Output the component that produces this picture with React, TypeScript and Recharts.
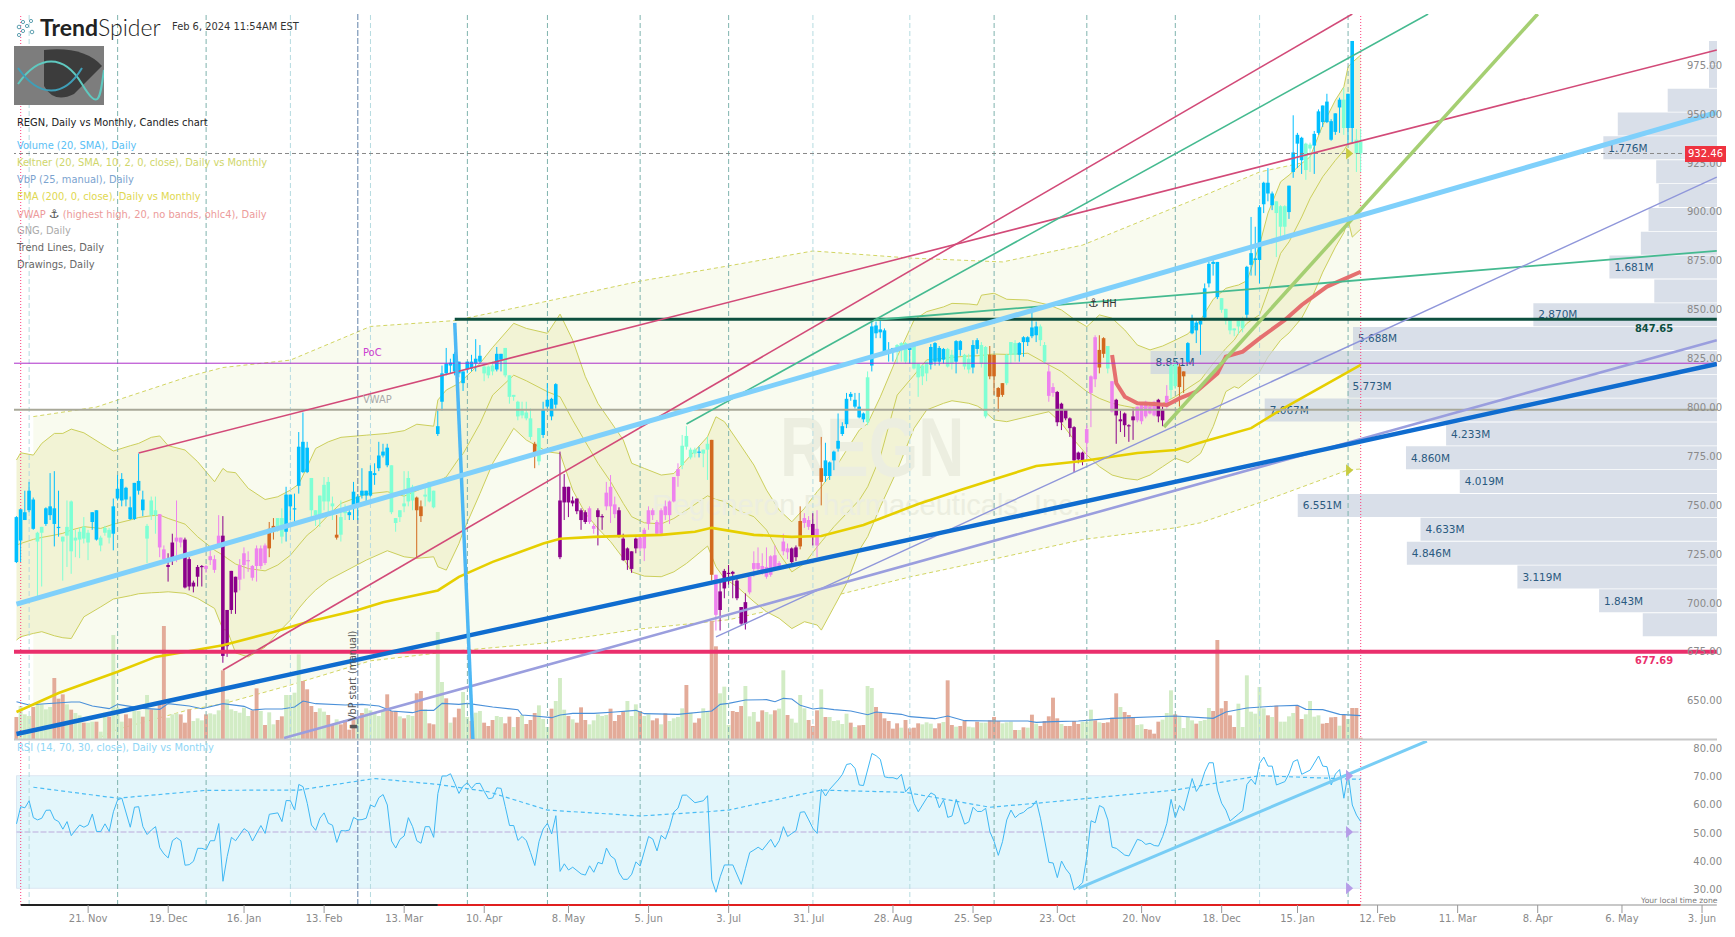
import React from 'react';
import { ComposedChart, Area, Bar, Line, XAxis, YAxis, ReferenceLine, ReferenceArea, ReferenceDot, LabelList } from 'recharts';

// [high, body top, body bottom, low, tone] b/a up trend, p/v down trend, o neutral
const ohlc: [number, number, number, number, string][] = [
  [747,746.5,723.5,723,'b'],[750.5,750.5,734.5,723.5,'b'],[760,749,745,745,'b'],[764.5,760,750,749,'b'],[756.5,755.5,740.5,740,'b'],
  [739,738.5,734,706,'a'],[741.5,741.5,738.5,711,'a'],[751.5,751,743,742,'b'],[769,752,747.5,745,'b'],[770,751,743,731.5,'b'],
  [760,741.5,741,736.5,'b'],[736.5,736.5,734,714,'a'],[755,741.5,737,721,'a'],[755,754.5,729,717.5,'a'],[740,736,734.5,726,'a'],
  [741,739,735,725.5,'a'],[746.5,741.5,735.5,733,'a'],[740,738.5,733.5,724.5,'a'],[749,749,744,740,'b'],[750,750,735,734.5,'b'],
  [737,736,732,729,'a'],[742,741,738.5,737,'a'],[741,740,736,733,'a'],[756,752,738,729.5,'b'],[768,761,756,755,'b'],
  [769,766,755,752,'b'],[762,761.5,755.5,752,'b'],[757,751.5,745.5,745,'b'],[764,764,745.5,745,'b'],[779,765,760,758,'b'],
  [760,755.5,750,747,'b'],[743,742,735.5,723,'a'],[757,755,747.5,745,'a'],[757,750,747.5,738,'a'],[748,748,731,726,'v'],
  [732,730,725,723,'v'],[728,722,721,713.5,'p'],[738,733.5,725,722,'p'],[755,736,734,723.5,'v'],[736,736,733.5,731,'v'],
  [736,735,710.5,710,'p'],[726,725,711,709,'p'],[714,713,711,708,'p'],[722,721,716,711,'p'],[722,721.5,721,711,'p'],
  [722,721.5,720,718,'v'],[731,726.5,724.5,722,'v'],[727,725,719.5,718,'v'],[747.5,737,732,731,'v'],[747,737,675.5,672,'p'],
  [699,699,680.5,675,'p'],[719,719,699,697,'p'],[716,716,708,697,'p'],[725,722,714.5,709,'v'],[731,728,722,715,'v'],
  [729,724.5,724,718.5,'v'],[722,721.5,715.5,714,'v'],[732,730.5,721.5,713.5,'v'],[732,730.5,721.5,720,'v'],[733,732,723,722,'v'],
  [744,740.5,730.5,726,'o'],[746,742,740.5,735,'o'],[746,746,741.5,739,'a'],[751,746,736.5,733,'a'],[762,758,739,734,'b'],
  [758,758,752,745,'b'],[758.5,751,750.5,743,'b'],[790,782.5,762.5,758.5,'b'],[800,785,769.5,769,'b'],[785,782,769.5,769,'b'],
  [766.5,766.5,750,745,'a'],[750,750,747.5,742,'a'],[757.5,757.5,747.5,741.5,'a'],[767,763,754.5,750,'a'],[767,764.5,754.5,748,'a'],
  [757,753.5,752,745,'a'],[747.5,737.5,736,735,'o'],[755,746.5,737.5,734,'a'],[753,751,748.5,745,'a'],[750,749,747.5,745,'b'],
  [764.5,759.5,752.5,745,'b'],[758,757,753,745,'b'],[771.5,760,757.5,756,'b'],[760,760,757.5,753.5,'b'],[773,770,757.5,757,'b'],
  [774,769,768,763,'b'],[785,778,771.5,770,'b'],[784,780,778,777,'b'],[784,782,773,772,'b'],[773,773,749,748,'a'],
  [746,746,743.5,739,'a'],[750,750,746.5,744,'a'],[770,753.5,752,749,'a'],[770,766.5,754.5,752,'a'],[763,762,755,750,'a'],
  [757,756.5,750,726,'o'],[755,752,747,744,'o'],[763,758,757,752,'a'],[764.5,764.5,754.5,754,'a'],[760,760,751.5,751,'a'],
  [801,793,789,788,'b'],[824,820,805.5,801,'b'],[833,825,820,819,'b'],[827.5,825.5,824,820,'b'],[831,830,821,819,'b'],
  [826,826,820,818,'b'],[821,821,815,811,'b'],[826,826,822,820,'b'],[829.5,826,822.5,821,'b'],[837.5,827.5,825,821,'b'],
  [834.5,829,826,825,'b'],[824,823.5,820,816,'a'],[824,823.5,819,817.5,'a'],[826,824,821,819,'a'],[833.5,830,822,821,'b'],
  [830,830,827,821,'b'],[833,833,819,818,'a'],[819,819,808,804.5,'a'],[809,809,808,806,'a'],[806,805.5,798,796,'a'],
  [805.5,801,798.5,797,'a'],[805.5,800,797,796,'a'],[802,797,787.5,786,'a'],[785,784,779,771.5,'o'],[792,792,775,773,'a'],
  [805.5,801.5,788.5,787,'b'],[815,806.5,803,802,'b'],[807.5,807,798,796,'b'],[815,814.5,804,802,'b'],[780,755,726,725,'p'],
  [768.5,762,754,745,'p'],[762,762,754,746.5,'p'],[757,755,753.5,752,'p'],[756,756,749.5,748,'p'],[751,750,745,740,'p'],
  [750,749,744,743,'p'],[752,751,744,743,'v'],[743,742,740.5,738,'v'],[751,750,746.5,732,'p'],[748,747,746.5,740,'p'],
  [764.5,759,752,750,'v'],[768,762,752,743.5,'v'],[757,753,748,746,'v'],[751.5,750,736.5,736,'p'],[738,735.5,724.5,724,'p'],
  [731,730.5,724.5,719.5,'p'],[729,729,720,718,'p'],[736,735.5,730.5,728,'p'],[737,736,730.5,729,'v'],[741,740,730.5,724,'v'],
  [752,750,743,740,'v'],[751,750,747.5,745,'v'],[745,744,738,737,'v'],[751,750,738,737,'v'],[755,752,747.5,745,'v'],
  [755,754.5,747.5,743,'v'],[767,767,754.5,754,'v'],[774,771,767.5,762,'v'],[788.5,783,773,771,'a'],[793,788,782.5,781,'a'],
  [782,781,777,776,'a'],[782,781,779,777,'a'],[782.5,780,779.5,777,'b'],[781,781,779,772,'a'],[787.5,784,781,765.5,'a'],
  [786,786,717,714,'o'],[717,717,696.5,688.5,'v'],[713,708.5,699,688.5,'p'],[720,719,710,705,'p'],[722,718,717.5,712,'p'],
  [719,718.5,717.5,705,'p'],[716,714,705,704,'p'],[700.5,700.5,692,691,'p'],[707.5,703,692,689,'p'],[716,716,708,707,'v'],
  [729,723,720,716,'v'],[731,723,720,718,'v'],[728,721.5,719.5,717,'v'],[731,721,716,715,'v'],[727,726.5,717,716,'v'],
  [732,727,721,720,'v'],[724,723,721,720,'v'],[738,734,729,727,'v'],[733,730.5,728.5,725,'v'],[731,730.5,723.5,722,'p'],
  [732,731,726,724,'p'],[752,744.5,731.5,730,'o'],[748.5,746,743.5,741,'v'],[747,745,741.5,740,'v'],[748.5,743,737,732,'p'],
  [750,740.5,732,726,'v'],[787.5,771.5,764.5,752.5,'o'],[784.5,775.5,767.5,764.5,'b'],[775,774.5,767.5,765.5,'b'],[780.5,780,775.5,770.5,'b'],
  [799.5,785.5,781.5,780,'b'],[795,793,789,788,'b'],[810,807,794,792,'b'],[810.5,809.5,808,806,'b'],[810,806.5,803,802,'b'],
  [810,803,797.5,797,'b'],[800,799.5,796.5,795,'b'],[821,818,795,793.5,'a'],[846.5,844,824,821,'b'],[846.5,844.5,840.5,838,'b'],
  [847,842.5,841,838,'b'],[843,842,831,830,'b'],[836,832,831,826,'b'],[833,833,831,826,'b'],[835,834.5,831,825,'a'],
  [836,835.5,833,826,'a'],[836,835.5,826,825,'a'],[834,833,832,825,'b'],[836,835.5,822.5,822,'a'],[825,825,818,808,'a'],
  [824.5,824,818.5,814,'a'],[826,826,820,816,'a'],[835,833.5,824.5,822,'b'],[836,835.5,826,824,'b'],[834,833,826,824,'b'],
  [833,832.5,827,825,'b'],[833,832.5,823.5,823,'a'],[832,829.5,825,822,'a'],[837,836.5,826,820,'b'],[837,836.5,832,829,'b'],
  [830,829.5,823.5,822,'a'],[830,827.5,822,820,'a'],[837,834.5,823,820,'b'],[838,837,832.5,830,'b'],[836,834.5,825,823,'a'],
  [834,833.5,798,797,'a'],[834,829.5,818.5,817,'o'],[829.5,829.5,818.5,809,'o'],[813,812.5,808,800.5,'o'],[815,815,809,808,'o'],
  [830,829.5,815,814,'a'],[836,836,829.5,825,'a'],[837,835.5,829.5,826,'a'],[836,835.5,829.5,826,'b'],[839,838.5,836,828.5,'b'],
  [839,838.5,836,834,'b'],[854,843.5,839,838,'b'],[846.5,844,839.5,836,'b'],[845,844,837,834,'a'],[836,834.5,826,825,'a'],
  [824.5,821,808.5,805.5,'v'],[815,813,810,808,'v'],[811,810.5,795,793,'p'],[805,804.5,795,791,'p'],[801.5,801.5,797,796,'p'],
  [797.5,797,792,787.5,'p'],[793,792.5,775.5,769.5,'p'],[780,779.5,776,774,'p'],[780,779.5,775,773,'p'],[793.5,791.5,784.5,776.5,'v'],
  [819,818.5,810,792.5,'v'],[839.5,838.5,817,813,'v'],[839.5,832,823,820,'o'],[838.5,838,830,828,'o'],[834,834,822.5,820,'a'],
  [816,816,800.5,800,'v'],[807,806.5,798.5,784,'p'],[801,796.5,795.5,790,'p'],[800,799.5,793.5,787.5,'p'],[794,793.5,793,785,'p'],
  [802,798,796,786,'p'],[803,803,796,795,'v'],[805,804.5,795.5,794,'v'],[806,805.5,798,797,'v'],[804,803,799.5,799,'v'],
  [806,805.5,798.5,798,'v'],[807,806.5,798,795,'p'],[803,801.5,796,793,'p'],[814,808.5,803,802,'v'],[825,824,811.5,807,'a'],
  [826,825,813.5,812,'a'],[825,823.5,813,803,'o'],[821,821,818.5,810,'o'],[836,835.5,826,825,'b'],[850,847.5,840.5,840,'b'],
  [847,846,842,835.5,'b'],[847.5,847,845,829.5,'b'],[866,863.5,848.5,847,'b'],[877,876,866,864,'b'],[878,877,876,870,'b'],
  [877,877,859,858,'b'],[858.5,858.5,852.5,851,'a'],[853,853,847,845,'a'],[848,848,842,840,'a'],[843,843,842,839,'a'],
  [847,847,844,840,'a'],[849,847,843,841,'a'],[875,874.5,850,848,'b'],[900,881.5,875.5,870,'b'],[895,878.8,878,870,'b'],
  [906,905,878,866,'b'],[918,917.5,906.5,902,'b'],[925,917.5,912,908,'b'],[913,912,906,903.5,'b'],[908,908,902,879.5,'a'],
  [906,905.5,895,890,'a'],[906,905.5,895,890,'a'],[916,916,902.5,899,'b'],[952,933,923,920,'b'],[943,942,937.5,925,'b'],
  [941,940.5,929,922,'b'],[938,937.5,924,919,'a'],[938,937,935,923,'a'],[944,942.5,936.5,922,'b'],[955,954,943,942,'b'],
  [957,957,948.5,946,'b'],[963,959,948.5,948,'b'],[950,949,939.5,939,'b'],[953,953,943.5,942,'b'],[961,960,956,943,'b'],
  [966,960,945.5,942,'a'],[963,963,945.5,937,'b'],[990,990,945.5,938,'b'],[945,939.5,932.5,923,'a'],[945,938.5,932.5,923,'a'],
];

// thousands of shares per bar
const volumes = [
  414,612,462,432,594,642,642,552,594,1116,744,822,642,546,486,444,312,312,330,330,
  150,492,420,1890,582,330,462,390,522,522,420,810,552,552,672,2052,402,462,480,462,
  312,552,342,390,354,462,480,462,534,1254,732,552,522,492,582,432,534,930,522,270,
  498,282,360,426,810,810,852,1542,1062,912,612,504,570,510,450,282,372,282,354,186,
  372,390,486,570,534,504,432,522,822,522,522,426,390,450,432,840,882,552,300,282,
  1944,1044,750,312,408,564,864,414,342,492,522,312,252,360,432,414,300,420,234,414,
  450,288,360,486,624,378,234,564,702,1116,546,432,372,312,588,360,282,354,462,432,
  450,564,342,450,516,702,432,642,522,432,462,354,390,282,480,342,390,414,570,990,
  492,312,390,570,522,2142,1686,840,960,270,522,504,612,972,426,504,330,534,504,462,
  534,564,1254,450,384,312,810,570,360,252,534,912,414,414,342,354,288,474,312,234,
  264,270,972,936,594,498,390,342,204,300,222,360,210,222,300,282,318,294,210,300,
  324,1074,270,240,252,342,240,228,330,312,312,354,414,342,300,318,330,180,180,228,
  222,456,294,252,342,426,762,390,288,252,252,342,288,330,330,546,354,318,306,318,
  402,840,594,504,450,414,270,282,198,186,114,330,366,486,894,462,432,216,414,354,
  294,342,360,576,522,1800,570,702,444,234,654,234,1164,510,474,954,570,444,414,618,
  330,330,426,486,618,378,462,702,420,444,294,306,408,414,258,450,378,576,576,42,
];
const volumeSides =
  'rgggrggggrrrgrggrggr' + 'ggrgggrrggrgrgrrgggr' + 'rrgggrgggrggggggrrgr' + 'ggrrggggrrrrggrrgrrr' +
  'rgrgggggrrrgrggrrgrr' + 'ggrgrrggrggrrrggrrgr' + 'grrrgggrgggrgrrrgggg' + 'grrrrgggrggrrgrggggr' +
  'grrggrrgggrrrgggrrgg' + 'rggrggggrrrgrgggggrg' + 'rrggrrrrrrgrrrrgggrr' + 'grrgrrggrggrrrgggrgr' +
  'grgrrrrrgrrrrgggrgrr' + 'rrgrrrggrrrrgggrgggg' + 'rgggrrrrrrgggggggrgr' + 'ggggrrggggrrrrgrgrrr';

const volumeSma = [
  [0,690],[3,630],[6,648],[13,684],[15,684],[18,612],[22,564],[24,642],[30,570],[34,552],[36,654],[41,612],[44,564],[49,654],[54,606],[56,540],[59,558],[63,558],[66,594],[68,702],[71,654],[78,630],
  [82,642],[86,612],[89,522],[94,492],[96,534],[99,534],[101,660],[105,642],[107,660],[113,594],[119,546],[120,450],[123,432],[127,402],[129,450],[132,480],[137,480],[142,504],[147,534],[149,474],[157,462],[165,522],
  [167,642],[169,660],[173,720],[178,726],[180,690],[182,750],[184,738],[186,624],[189,558],[191,576],[194,546],[198,522],[202,456],[204,504],[210,462],[212,420],[218,384],[221,432],[225,348],[232,342],[240,342],[242,318],[246,330],
  [252,342],[260,390],[275,432],[284,390],[287,504],[292,576],[299,612],[304,624],[306,552],[310,546],[314,462],[319,438],
];

// [bar, upper, middle, lower]
const keltnerDaily = [
  [0,775.7,732.2,683.6],[1,779.4,733,685.3],[4,778.2,735.1,687],[6,784.2,736.1,687.9],[9,789.3,737.3,685.8],[11,789.3,738.2,684.8],[13,791.5,739.9,684.4],
  [16,789.6,741.6,695.5],[20,784.2,740.7,700.6],[23,780.3,742.9,704.6],[27,783,745,706.3],[29,784.2,746.3,707.3],[32,787.3,747.2,707.8],[34,788,747.5,708],
  [36,783,745.8,708.3],[40,780.8,742.9,707.5],[43,774.8,736.4,704.9],[47,764.6,729.6,699.8],[49,771.4,727,689],[50,769.7,725.4,688.7],[52,769.2,722.5,677],
  [55,761.2,720.2,675],[59,755.5,719,680],[62,756.9,722,687.2],[65,760.3,727,693.8],[67,763.4,732.2,699.8],[69,772.3,737.3,704.9],[71,781.6,740.7,709.2],
  [74,785,747.5,714.3],[77,787.3,753.5,717.7],[83,788.4,758.3,724.5],[88,789.3,759.5,729.3],[92,790.7,757.2,726.2],[95,794,760,725.4],[99,793,763.7,726.2],
  [100,806.4,764.6,721.1],[102,811.5,767.1,719.4],[105,814.9,776.5,733],[106,816.9,779,739],[110,825.1,794.4,758.6],[113,833.3,808.9,774],[118,845.6,819.1,791.9],
  [121,843,816.2,785.9],[126,840.5,810.6,779.9],[129,850.3,808,779],[132,837,796,760.3],[135,818.3,785,748.4],[138,804.6,774,740.7],[141,795.3,764.6,733.9],
  [144,785.9,753.5,725.4],[146,774,746.7,718.5],[149,771.4,743.6,716.3],[153,768,743,716],[156,768.8,745.8,718.5],[159,775.7,750.1,722.8],[164,787.6,757.4,731.7],
  [166,797.8,755.5,721.1],[168,795.3,754.5,715.1],[171,785.9,750.1,710.9],[175,773.1,746.7,703.2],[178,760.3,739.9,698.1],[181,750.1,727.9,694.7],[184,744.1,718.5,689.5],
  [187,751,722.8,693],[190,759.5,731.3,691.3],[191,762,733.9,688.7],[194,770.5,741.6,700.6],[197,780.8,748.4,712.6],[200,791,755.2,729.6],[202,794.4,762,736.5],
  [205,808,777.4,751.8],[209,828.5,808.9,770.5],[213,847.3,819.1,791.9],[216,851.6,826.9,801.3],[220,854,827.7,804.7],[222,855.8,828.2,806],[226,855.5,828.9,804.7],
  [228,855,829,803.3],[229,860,829.2,802],[232,861,829.9,796.2],[235,857.9,829.7,795.3],[240,857.5,830.3,797.9],[245,855,824.3,800.4],[248,852.4,820.9,794.5],
  [251,847.7,815.8,785.9],[254,843.9,810.7,778.3],[257,849.9,807.2,772.3],[260,848.2,804.7,768],[263,842.2,803.3,766.3],[266,834.5,802.1,765.5],[269,832,803,768],
  [272,834,804.7,772.3],[275,837,808.1,776.6],[278,840.2,812.4,774.3],[281,847.3,816.6,779.1],[284,857.9,825.1,792.8],[287,863.5,832.8,810.7],[289,864.7,837.1,813.2],
  [290,865.2,840.5,812.4],[292,867.4,845.6,815.8],[295,885.7,850,820.7],[297,902,862,828.4],[300,918,881.4,837],[302,921.4,887.3,840.7],[305,927.4,900,848.3],
  [307,930.8,909.5,856.5],[310,947,920.6,871.8],[313,959.8,929,884.6],[315,966.6,934,892],[316,976.8,937.6,898.4],[317,979,938,889.7],[319,982.8,938.5,893.8],
];

// [bar, upper, lower]
const keltnerMonthly = [
  [4,797.9,625],[19,802.8,633],[24,806.4,638],[41,818.5,648],[49,823,651],[65,826.8,660.6],[84,844,673],[104,847,678],[125,856.5,682],[148,867.2,689.3],
  [169,875,694],[189,882.6,703.6],[212,879,715.9],[234,877,726],[253,885.6,735],[275,905,741],[281,910.2,743.6],[295,923,753.9],[316,932.7,770.6],[319,933,771.1],
];

const ema200 = [
  [0,646.8],[10,656.5],[24,667.4],[33,675],[49,681],[61,687.7],[69,692.9],[81,699],[87,703],[100,709],[105,715.9],[113,723.6],[125,733],[129,735.4],[137,736.4],[153,737.4],[161,739],
  [165,741],[175,737.4],[184,736.4],[191,736.8],[201,742.5],[214,753.2],[224,760.4],[233,766.5],[242,772.6],[253,775.2],[266,779.3],[275,780.8],[283,785.9],[293,792],[300,801.3],[319,824.3],
];

const anchoredVwap = [
  [260,829.4],[261,814.9],[263,808.1],[266,804.7],[270,804.3],[273,803.8],[276,807.2],[280,810.7],[285,820],[287,828.6],[291,831.1],[295,837.9],[301,847.3],[305,855],[311,864.4],[319,872],
];

const rsi = [
  [0,52.9],[1,59],[2,58.6],[3,61.1],[4,55.1],[5,54.3],[6,54.9],[7,57.7],[8,57.8],[9,54.5],[10,53.7],[11,51],[12,53.7],[13,48.7],[14,50.7],[15,52.5],[16,51.7],[17,52.5],[18,56.4],[19,50.2],
  [20,50.2],[21,52.9],[22,50.2],[23,57.2],[24,61.4],[25,62],[27,51.7],[28,58.8],[29,59],[30,51.9],[31,49.1],[32,50.7],[33,51.9],[34,44.4],[35,42.2],[36,40.8],[37,46.9],[38,48],[39,46.9],
  [40,38.2],[41,38.4],[42,39.6],[43,44.2],[44,44.2],[45,43.7],[46,46.9],[47,46.9],[48,53],[49,32.5],[50,41.3],[51,48.1],[52,46.9],[54,51.2],[55,50.1],[56,46.8],[58,52.3],[59,49.5],
  [60,56.3],[62,56.8],[63,53.7],[64,61.2],[65,61.1],[66,57.8],[67,66.9],[68,66.1],[69,60.2],[70,52.5],[71,50.6],[72,54.9],[73,56.8],[74,53.1],[75,52.4],[76,46.3],[77,50.5],[78,50.4],[79,50.7],
  [80,55.2],[81,54.3],[82,54.4],[83,54.9],[84,59.6],[85,58.9],[86,62.2],[87,63.3],[88,59.6],[89,46.8],[90,44.3],[91,47.4],[92,48.6],[93,55.1],[94,51.9],[95,46.9],[96,46],[97,51.9],[98,51.9],[99,48.1],
  [100,63.7],[101,69.9],[102,69.9],[103,70.7],[104,67.3],[105,63.7],[106,66.3],[107,67.5],[108,65.5],[109,67.2],[110,67.3],[111,64.4],[112,61.8],[113,62.1],[114,65.7],[115,65.5],[116,59],[117,52.3],[118,52.3],[119,47],
  [120,48.4],[121,46.9],[122,42.7],[123,38.1],[124,46.6],[125,51.1],[126,53.1],[127,49.3],[128,55.8],[129,36],[130,38.7],[131,36.5],[132,37.5],[134,35.1],[135,34.7],[136,38],[137,35.7],[138,39.2],[139,38.7],
  [140,44.3],[141,41.5],[142,40.4],[143,35.5],[144,33.2],[145,33.2],[146,35],[147,39.4],[148,37.9],[150,48.4],[151,47.5],[152,43.3],[153,48.8],[154,47.5],[155,51.7],[156,57.1],[157,58.5],[158,63.1],[159,63.1],
  [161,60.4],[163,61.1],[164,62.9],[165,33],[166,28.6],[167,34.1],[168,38.3],[170,38.3],[172,31.4],[173,37.1],[174,42.7],[175,43.6],[176,44.6],[177,43.6],[179,47.4],
  [180,44.6],[181,46.9],[182,51.9],[183,48.4],[184,49.5],[185,50.5],[186,57],[187,57.2],[188,54.3],[189,51.3],[190,49.5],[191,65.2],[192,62.8],[193,65.2],[195,68.5],[196,70.5],[197,74],[198,74.3],[199,72.6],
  [200,66.7],[201,66.5],[203,77.9],[204,77.1],[205,75.8],[206,69.6],[207,69.3],[208,69.3],[209,68.8],[210,70.5],[211,64.3],[212,66.1],[213,60.2],[214,57.2],[216,62],[217,63.9],[218,63.1],[219,58.6],
  [220,61.4],[221,55.2],[222,55.7],[223,61.6],[225,52.8],[226,53.6],[227,58.8],[228,57.3],[229,57.3],[230,58.4],[231,50.1],[232,46.6],[233,41.7],[234,46.6],[235,54.3],[236,57.8],[237,55.1],[238,56.4],[239,57],
  [240,58.4],[241,59],[242,61.1],[243,54.9],[245,39.2],[246,39],[247,33.8],[248,39.7],[249,36.9],[250,35],[251,29.4],[252,30.6],[253,32],[254,41.3],[255,54],[256,53.3],[257,59.4],[258,58.6],[259,54.3],
  [260,44.6],[261,44.2],[263,41.8],[264,41.5],[266,47.4],[267,46.9],[268,45.6],[269,46],[270,45.2],[271,45],[272,48.4],[273,53.1],[274,61.6],[275,55.1],[276,59.4],[277,57.6],[279,69],
  [280,64.4],[281,66.7],[282,71.4],[283,74.6],[284,74.6],[285,64.9],[286,60.2],[287,57.8],[288,53.9],[290,56.4],[291,57.6],[292,66.9],[293,68.8],[294,66.9],[295,74.4],[296,76.6],[297,73.4],[298,73.4],[299,66.7],
  [301,67.9],[302,70.8],[303,75],[304,75.7],[305,70.5],[307,72],[309,77],[310,73.4],[311,73.2],[312,66.7],[313,70.6],[314,72.2],[315,62],[316,70.8],[317,59.6],[318,56],[319,53.7],
];
const rsiMonthly = [
  [4,65.9],[24,62],[45,64.8],[67,64.9],[85,69],[100,66.9],[112,64.3],[126,57.8],[148,55.7],[164,57.2],[169,57.8],[191,64.9],[211,64.1],[231,58.8],[242,60.2],[275,64.9],[295,70],[319,68.7],
];

// Volume by price, top bin first, in millions
const vbpVolumes = [0.125,0.125,0.77,1.55,1.776,0.95,0.91,1.07,1.19,1.681,0.98,2.87,5.688,8.851,5.773,7.067,4.233,4.86,4.019,6.551,4.633,4.846,3.119,1.843,1.16];
const vbpLabels = ['','','','','1.776M','','','','','1.681M','','2.870M','5.688M','8.851M','5.773M','7.067M','4.233M','4.860M','4.019M','6.551M','4.633M','4.846M','3.119M','1.843M',''];

// [[bar, price], [bar, price]]
const skyTrend = [[0,702],[403.5,953.5]];
const blueTrend = [[0,635.6],[403.5,824.8]];
const lavenderTrend = [[63.5,633.5],[403.5,837]];
const thinLavenderTrend = [[166,685.2],[403.5,920.4]];
const crimsonWide = [[29,779.3],[403.5,985.4]];
const crimsonSteep = [[49,668.3],[317,1003.8]];
const tealSteep = [[159,794.1],[335,1003.8]];
const tealFlat = [[203.5,847.3],[403.5,882.7]];
const greenTrend = [[272.3,792.6],[361,1003.8]];
const skyDrop = [[104,845.8],[108.3,633]];
const rsiTrend = [[252,30],[334.7,82.3]];

const PRICE_RES = 847.65;
const PRICE_SUP = 677.69;
const PRICE_POC = 825.2;
const PRICE_VWAP = 801.4;
const PRICE_LAST = 932.46;

const priceTicks = [650,675,700,725,750,775,800,825,850,875,900,925,950,975];
const rsiTicks = [30,40,50,60,70,80];
const dateTicks = [17,36,54,73,92,111,131,150,169,188,208,227,247,267,286,304,323,342,361,381,400];
const dateLabels = ['21. Nov','19. Dec','16. Jan','13. Feb','13. Mar','10. Apr','8. May','5. Jun','3. Jul','31. Jul','28. Aug','25. Sep','23. Oct','20. Nov','18. Dec','15. Jan','12. Feb','11. Mar','8. Apr','6. May','3. Jun'];

const gridDark = [24,45,107,126,148,169,232,254,275,316];
const gridLight = [3,65,84,189,212,295];
const gridNavy = [81];
const sessionEdges = [1,319];

const X_DOMAIN: [number, number] = [-0.593, 403.55];
const PRICE_DOMAIN: [number, number] = [632.5, 1003.8];
const VOLUME_DOMAIN: [number, number] = [0, 13068];
const RSI_DOMAIN: [number, number] = [24.07, 82.33];
const VBP_DOMAIN: [number, number] = [0, 26.61];

const W = 1735;
const H = 937;
const priceFrame = { top: 14, right: 18, left: 14, bottom: 197 };
const axisFrame = { top: 14, right: 17, left: 14, bottom: 197 };
const rsiFrame = { top: 741, right: 17, left: 14, bottom: 0 };
const FONT = '"DejaVu Sans", sans-serif';

const toneColors: Record<string, string> = { b: '#00bfff', a: '#7fffd4', p: '#8b008b', v: '#ee82ee', o: '#d2691e' };

const candleData = ohlc.map((r, i) => ({ i, high: r[0], top: r[1], bottom: r[2], low: r[3], tone: r[4] }));
const volumeData = volumes.map((v, i) => ({ i, v, side: volumeSides[i] }));
const vbpData = vbpVolumes.map((v, i) => ({ bin: i, v, label: vbpLabels[i] }));
const pts = (rows: number[][]) => rows.map(([i, v]) => ({ i, v }));
const dailyBand = keltnerDaily.map(([i, u, m, l]) => ({ i, u, m, l }));
const monthlyBand = keltnerMonthly.map(([i, u, l]) => ({ i, u, l }));

const CandleShape = (props: any) => {
  const { x, y, width, height, payload } = props;
  const k = height / (payload.high - payload.low);
  const cx = x + width / 2;
  const top = y + (payload.high - payload.top) * k;
  const h = Math.max((payload.top - payload.bottom) * k, 1.2);
  const c = toneColors[payload.tone];
  return (
    <g>
      <line x1={cx} x2={cx} y1={y} y2={y + height} stroke={c} strokeWidth={1} />
      <rect x={cx - 1.8} y={top} width={3.6} height={h} fill={c} />
    </g>
  );
};

const VolumeShape = (props: any) => {
  const { x, y, width, height, payload } = props;
  return <rect x={x + width / 2 - 1.95} y={y} width={3.9} height={height} fill={payload.side === 'r' ? '#e3ab99' : '#d2ecc5'} />;
};

const Triangle = (props: any) => {
  const { cx, cy, fill } = props;
  return <polygon points={`${cx - 2},${cy - 6} ${cx + 5},${cy} ${cx - 2},${cy + 6}`} fill={fill} />;
};

const PriceTick = (props: any) => (
  <text x={1722} y={props.y - 5} textAnchor="end" dominantBaseline="central" fontSize={10} fontFamily={FONT} fill="#8a8a8a">
    {props.payload.value.toFixed(2)}
  </text>
);

const RsiTick = (props: any) => (
  <text x={1722} y={props.y + 1} textAnchor="end" dominantBaseline="central" fontSize={10} fontFamily={FONT} fill="#8a8a8a">
    {props.payload.value.toFixed(2)}
  </text>
);

const trend = (rows: number[][], stroke: string, strokeWidth: number, key: string) => (
  <ReferenceLine
    key={key}
    segment={[{ x: rows[0][0], y: rows[0][1] }, { x: rows[1][0], y: rows[1][1] }]}
    stroke={stroke}
    strokeWidth={strokeWidth}
    ifOverflow="hidden"
  />
);

const gridLines = () => [
  ...gridDark.map((x) => <ReferenceLine key={`d${x}`} x={x} stroke="#7fb3ae" strokeDasharray="5 3" />),
  ...gridLight.map((x) => <ReferenceLine key={`l${x}`} x={x} stroke="#b5dbe0" strokeDasharray="5 3" />),
  ...gridNavy.map((x) => <ReferenceLine key={`n${x}`} x={x} stroke="#5f80a8" strokeDasharray="6 2" />),
  ...sessionEdges.map((x) => <ReferenceLine key={`e${x}`} x={x} stroke="#ff3b7a" strokeDasharray="1 2" />),
];

const Layer = ({ children }: { children: React.ReactNode }) => (
  <div style={{ position: 'absolute', left: 0, top: 0, width: W, height: H }}>{children}</div>
);

const Note = ({ x, y, color, size = 9.9, children, style }: any) => (
  <div style={{ position: 'absolute', left: x, top: y, transform: 'translateY(-50%)', color, fontSize: size, fontFamily: FONT, whiteSpace: 'nowrap', lineHeight: 1, ...style }}>
    {children}
  </div>
);

const priceAxes = (
  <>
    <XAxis type="number" dataKey="i" domain={X_DOMAIN} allowDataOverflow hide />
    <YAxis type="number" domain={PRICE_DOMAIN} allowDataOverflow hide />
  </>
);

const Thumbnail = () => (
  <svg width={90} height={59} style={{ position: 'absolute', left: 14, top: 46 }}>
    <rect width={90} height={59} fill="#7d7d7d" />
    <path d="M30 4 Q70 0 88 20 L60 48 Q40 58 30 40 Z" fill="#3c3c3c" />
    <path d="M4 38 C25 8 50 8 68 38 S86 50 90 24" stroke="#5fc9c0" strokeWidth={2} fill="none" />
    <path d="M4 22 C25 52 50 52 68 22" stroke="#3f9fb8" strokeWidth={2} fill="none" />
  </svg>
);

const LogoMark = () => (
  <svg width={24} height={24} style={{ position: 'absolute', left: 14, top: 16 }} fill="none" stroke="#4d96a8" strokeWidth={0.9}>
    <circle cx={5} cy={11} r={1.8} />
    <circle cx={9} cy={6} r={1.6} />
    <circle cx={17} cy={5} r={1.6} />
    <circle cx={13} cy={10} r={1.6} />
    <circle cx={9} cy={15} r={1.6} />
    <circle cx={5} cy={19} r={1.6} />
    <circle cx={18} cy={16} r={1.8} />
  </svg>
);

export default function App() {
  return (
    <div style={{ position: 'absolute', left: 0, top: 0, width: W, height: H, overflow: 'hidden', background: '#fff' }}>
      <Layer>
        <ComposedChart width={W} height={H} margin={priceFrame}>
          {priceAxes}
          <Area data={monthlyBand} dataKey={(d: any) => [d.l, d.u]} type="linear" stroke="#d2d562" strokeWidth={1} strokeDasharray="4 3" fill="#f9fbef" fillOpacity={1} dot={false} activeDot={false} isAnimationActive={false} />
          <Area data={dailyBand} dataKey={(d: any) => [d.l, d.u]} type="linear" stroke="#cccf5c" strokeWidth={1} fill="#f2f3d5" fillOpacity={1} dot={false} activeDot={false} isAnimationActive={false} />
          <Line data={dailyBand} dataKey="m" type="linear" stroke="#cccf5c" strokeWidth={1} dot={false} activeDot={false} isAnimationActive={false} />
        </ComposedChart>
      </Layer>

      <div style={{ position: 'absolute', left: 780, top: 405, color: '#eceee0', fontFamily: '"Liberation Sans", sans-serif', fontWeight: 700, fontSize: 84, lineHeight: 1, transform: 'scaleX(0.76)', transformOrigin: 'left top' }}>REGN</div>
      <div style={{ position: 'absolute', left: 652, top: 491, color: '#eceee0', fontFamily: '"Liberation Sans", sans-serif', fontSize: 29, lineHeight: 1, whiteSpace: 'nowrap' }}>Regeneron Pharmaceuticals, Inc.</div>

      <Layer>
        <ComposedChart layout="vertical" width={W} height={H} data={vbpData} margin={{ top: 41, right: 18, left: 14, bottom: 300 }} barCategoryGap={0}>
          <XAxis type="number" domain={VBP_DOMAIN} reversed allowDataOverflow hide />
          <YAxis type="category" dataKey="bin" hide />
          <Bar dataKey="v" barSize={23} fill="#c9d1df" fillOpacity={0.7} isAnimationActive={false}>
            <LabelList dataKey="label" position="insideRight" fill="#2a5a80" fontSize={10.5} fontFamily={FONT} />
          </Bar>
        </ComposedChart>
      </Layer>

      <Layer>
        <ComposedChart width={W} height={H} data={volumeData} margin={priceFrame}>
          <XAxis type="number" dataKey="i" domain={X_DOMAIN} allowDataOverflow hide />
          <YAxis type="number" domain={VOLUME_DOMAIN} allowDataOverflow hide />
          <Bar dataKey="v" barSize={4} shape={VolumeShape} isAnimationActive={false} />
          <Line data={pts(volumeSma)} dataKey="v" type="linear" stroke="#4a90d9" strokeWidth={1.1} dot={false} activeDot={false} isAnimationActive={false} />
          {gridLines()}
        </ComposedChart>
      </Layer>

      <Layer>
        <ComposedChart width={W} height={H} data={candleData} margin={axisFrame}>
          <XAxis type="number" dataKey="i" domain={X_DOMAIN} allowDataOverflow hide />
          <YAxis type="number" orientation="right" width={1} domain={PRICE_DOMAIN} allowDataOverflow ticks={priceTicks} interval={0} tick={PriceTick} tickLine={false} axisLine={false} />
          <Bar dataKey={(d: any) => [d.low, d.high]} barSize={4} shape={CandleShape} isAnimationActive={false} />
          <Line data={pts(ema200)} dataKey="v" type="linear" stroke="#e6cf00" strokeWidth={2.6} dot={false} activeDot={false} isAnimationActive={false} />
          <Line data={pts(anchoredVwap)} dataKey="v" type="linear" stroke="#e56f6f" strokeWidth={4} dot={false} activeDot={false} isAnimationActive={false} />
          <ReferenceLine y={PRICE_POC} stroke="#ac2ec9" strokeWidth={1} />
          <ReferenceLine y={PRICE_VWAP} stroke="#a8a898" strokeWidth={2} />
          <ReferenceLine y={PRICE_LAST} stroke="#888" strokeWidth={1} strokeDasharray="4 3" />
          <ReferenceLine y={PRICE_SUP} stroke="#ea2f6c" strokeWidth={4} />
          <ReferenceLine y={632.8} stroke="#c8c8c8" strokeWidth={2} />
          <ReferenceLine segment={[{ x: 104, y: PRICE_RES }, { x: 403.5, y: PRICE_RES }]} stroke="#0d4f3f" strokeWidth={3} ifOverflow="hidden" />
          {trend(crimsonWide, '#d24a78', 1.6, 'cw')}
          {trend(crimsonSteep, '#d24a78', 1.6, 'cs')}
          {trend(tealSteep, '#45ba90', 1.6, 'ts')}
          {trend(tealFlat, '#45ba90', 1.8, 'tf')}
          {trend(thinLavenderTrend, '#8f96da', 1.4, 'tl')}
          {trend(lavenderTrend, '#9a9ede', 2.6, 'lt')}
          {trend(blueTrend, '#0f6ccf', 4.5, 'bt')}
          {trend(skyDrop, '#4db8f5', 3.5, 'sd')}
          {trend(greenTrend, '#a5cf72', 3.6, 'gt')}
          {trend(skyTrend, '#7fd0fb', 5, 'st')}
          <ReferenceDot x={316} y={770.5} r={4} fill="#c8cc40" stroke="none" shape={Triangle} />
          <ReferenceDot x={316} y={932.5} r={4} fill="#c8cc40" stroke="none" shape={Triangle} />
        </ComposedChart>
      </Layer>

      <Layer>
        <ComposedChart width={W} height={H} margin={rsiFrame}>
          <XAxis type="number" dataKey="i" domain={X_DOMAIN} allowDataOverflow ticks={dateTicks} interval={0} height={32} tickFormatter={(v: number) => dateLabels[dateTicks.indexOf(v)]} tickSize={8} tickLine={{ stroke: '#999' }} axisLine={false} tick={{ fill: '#8a8a8a', fontSize: 10, fontFamily: FONT }} />
          <YAxis type="number" orientation="right" width={1} domain={RSI_DOMAIN} allowDataOverflow ticks={rsiTicks} interval={0} tick={RsiTick} tickLine={false} axisLine={false} />
          <ReferenceArea x1={0} x2={319} y1={30} y2={70} fill="#e3f6fb" fillOpacity={1} stroke="#dde6f2" />
          <ReferenceLine segment={[{ x: 0, y: 50 }, { x: 319, y: 50 }]} stroke="#c9c4e6" strokeWidth={1.4} strokeDasharray="6 2" />
          {gridLines()}
          <Line data={pts(rsiMonthly)} dataKey="v" type="linear" stroke="#4bbdf5" strokeWidth={1.2} strokeDasharray="4 3" dot={false} activeDot={false} isAnimationActive={false} />
          <Line data={pts(rsi)} dataKey="v" type="linear" stroke="#3fb8f4" strokeWidth={1} dot={false} activeDot={false} isAnimationActive={false} />
          {trend(rsiTrend, '#78cdf5', 3, 'rt')}
          <ReferenceLine segment={[{ x: 1, y: 24.07 }, { x: 100, y: 24.07 }]} stroke="#222" strokeWidth={2} />
          <ReferenceLine segment={[{ x: 100, y: 24.07 }, { x: 319, y: 24.07 }]} stroke="#e01f1f" strokeWidth={2} />
          <ReferenceLine segment={[{ x: 319, y: 24.07 }, { x: 403.5, y: 24.07 }]} stroke="#c8c8c8" strokeWidth={2} />
          <ReferenceDot x={316} y={70} r={4} fill="#b59ce8" stroke="none" shape={Triangle} />
          <ReferenceDot x={316} y={50} r={4} fill="#b59ce8" stroke="none" shape={Triangle} />
          <ReferenceDot x={316} y={30} r={4} fill="#b59ce8" stroke="none" shape={Triangle} />
        </ComposedChart>
      </Layer>

      <LogoMark />
      <div style={{ position: 'absolute', left: 40, top: 27, transform: 'translateY(-50%)', fontFamily: 'Lato, sans-serif', fontSize: 23, lineHeight: 1, color: '#222', whiteSpace: 'nowrap' }}>
        <span style={{ fontWeight: 700 }}>Trend</span><span style={{ fontWeight: 300 }}>Spider</span>
      </div>
      <Note x={172} y={27} color="#333">Feb 6, 2024 11:54AM EST</Note>
      <Thumbnail />
      <Note x={17} y={123} color="#222">REGN, Daily vs Monthly, Candles chart</Note>
      <Note x={17} y={145.5} color="#5ac0f5">Volume (20, SMA), Daily</Note>
      <Note x={17} y={162.5} color="#cfd66a">Keltner (20, SMA, 10, 2, 0, close), Daily vs Monthly</Note>
      <Note x={17} y={179.5} color="#7ba3cf">VbP (25, manual), Daily</Note>
      <Note x={17} y={196.5} color="#e0d850">EMA (200, 0, close), Daily vs Monthly</Note>
      <Note x={17} y={213.5} color="#ec9a9a">VWAP <span style={{ color: '#555', fontSize: 12 }}>⚓</span> (highest high, 20, no bands, ohlc4), Daily</Note>
      <Note x={17} y={230.5} color="#aaa">GNG, Daily</Note>
      <Note x={17} y={247.5} color="#666">Trend Lines, Daily</Note>
      <Note x={17} y={264.5} color="#666">Drawings, Daily</Note>
      <Note x={17} y={748} color="#8fd6f5">RSI (14, 70, 30, close), Daily vs Monthly</Note>

      <Note x={363} y={353} color="#cb40d0">PoC</Note>
      <Note x={363} y={400} color="#aaa">VWAP</Note>
      <Note x={1088} y={303} color="#333"><span style={{ fontSize: 12 }}>⚓</span> HH</Note>
      <Note x={1654} y={329} color="#0d4f3f" style={{ fontWeight: 700, transform: 'translate(-50%,-50%)' }}>847.65</Note>
      <Note x={1654} y={660.7} color="#ea2f6c" style={{ fontWeight: 700, transform: 'translate(-50%,-50%)' }}>677.69</Note>
      <div style={{ position: 'absolute', left: 1685, top: 146, width: 41, height: 16, background: '#ef3340', color: '#fff', fontFamily: FONT, fontSize: 10, lineHeight: '16px', textAlign: 'center' }}>932.46</div>
      <Note x={1641} y={901} color="#777" size={7.6}>Your local time zone</Note>
      <div style={{ position: 'absolute', left: 352, top: 680, color: '#555', fontFamily: FONT, fontSize: 9.6, whiteSpace: 'nowrap', transform: 'translate(-50%,-50%) rotate(-90deg)' }}>▮ VbP start (manual)</div>
    </div>
  );
}
